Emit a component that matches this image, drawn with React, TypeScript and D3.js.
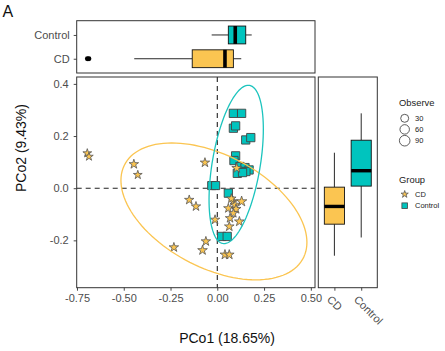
import * as d3 from 'd3'
import { useEffect, useRef } from 'react'

const width = 445
const height = 351
const font = 'Liberation Sans, Arial, Helvetica, sans-serif'

const groups = ['CD', 'Control']
const groupFill = ['#FBC551', '#00C4BE']
const ellipseStroke = ['#FBC551', '#1CC4BE']

// PCoA scores
const cdPco1 = [-0.695, -0.686, -0.446, -0.425, -0.066, 0.104, -0.15, -0.114, -0.232, -0.061, -0.079, -0.012, 0.041, 0.064, 0.086, 0.13, 0.095, 0.059, 0.1, 0.086, 0.068, 0.118, 0.064, 0.075]
const cdPco2 = [0.134, 0.121, 0.092, 0.051, 0.098, 0.077, -0.045, -0.07, -0.227, -0.204, -0.238, -0.121, -0.255, -0.255, -0.051, -0.051, -0.064, -0.077, -0.08, -0.096, -0.115, -0.128, -0.147, -0.04]
const cdObserve = [45, 40, 60, 45, 60, 70, 60, 60, 60, 60, 65, 60, 70, 65, 60, 85, 75, 60, 70, 55, 60, 70, 65, 60]

const ctrlPco1 = [0.086, 0.13, 0.086, 0.098, 0.152, 0.179, 0.098, 0.089, 0.121, 0.148, 0.17, 0.153, 0.107, 0.135, -0.03, -0.009, 0.059, 0.023, 0.053]
const ctrlPco2 = [0.287, 0.287, 0.23, 0.239, 0.185, 0.194, 0.124, 0.106, 0.083, 0.079, 0.07, 0.064, 0.057, 0.06, 0.01, 0.01, -0.019, -0.185, -0.185]
const ctrlObserve = [60, 60, 60, 60, 60, 60, 60, 60, 60, 60, 60, 60, 60, 60, 55, 55, 60, 60, 60]

// 95% ellipses: [cx, cy, var x, cov xy, var y]
const cdEllipse = [-0.018, -0.089, 0.2471, -0.05905, 0.0689]
const ctrlEllipse = [0.101, 0.091, 0.02106, 0.01962, 0.0921]

// boxplot summaries: [lower whisker, q1, median, q3, upper whisker]
const cdPco1Box = [-0.444, -0.134, 0.041, 0.086, 0.128]
const ctrlPco1Box = [-0.03, 0.059, 0.096, 0.152, 0.184]
const cdPco1Outliers = [-0.695, -0.686]
const cdPco2Box = [-0.259, -0.138, -0.07, 0.004, 0.136]
const ctrlPco2Box = [-0.189, 0.008, 0.067, 0.184, 0.287]

const xTicks = [-0.75, -0.5, -0.25, 0, 0.25, 0.5]
const yTicks = [-0.2, 0, 0.2, 0.4]
const observeBreaks = [30, 60, 90]

export default function App() {
    const svgRef = useRef<SVGSVGElement>(null)

    useEffect(() => {
        if (!svgRef.current) return
        const svg = d3.select(svgRef.current)
        svg.selectAll('*').remove()

        const main = { left: 76.7, right: 315, top: 77, bottom: 287.7 }
        const topP = { left: 76.7, right: 315, top: 20.7, bottom: 73 }
        const side = { left: 318.3, right: 377.3, top: 77, bottom: 287.7 }

        const x = d3.scaleLinear().domain([-0.7516, 0.5223]).range([main.left, main.right])
        const y = d3.scaleLinear().domain([-0.3816, 0.4264]).range([main.bottom, main.top])
        const r = d3.scaleSqrt().domain([30, 90]).range([4, 5.3])

        const yTop = d3.scalePoint().domain(['Control', 'CD']).range([topP.top, topP.bottom]).padding(0.6)
        const xSide = d3.scalePoint().domain(groups).range([side.left, side.right]).padding(0.6)

        const styleAxis = (g: any) => {
            g.select('.domain').remove()
            g.selectAll('line').attr('stroke', '#333').attr('stroke-width', 0.9)
            g.selectAll('text').attr('fill', '#4D4D4D').style('font-size', '11px').style('font-family', font)
        }

        // panel backgrounds
        for (const p of [topP, main, side]) {
            svg.append('rect')
                .attr('x', p.left).attr('y', p.top)
                .attr('width', p.right - p.left).attr('height', p.bottom - p.top)
                .attr('fill', 'white')
        }

        // zero lines
        svg.append('line')
            .attr('x1', x(0)).attr('x2', x(0)).attr('y1', main.top).attr('y2', main.bottom)
            .attr('stroke', '#222').attr('stroke-width', 1.1).attr('stroke-dasharray', '5,4')
        svg.append('line')
            .attr('x1', main.left).attr('x2', main.right).attr('y1', y(0)).attr('y2', y(0))
            .attr('stroke', '#222').attr('stroke-width', 1.1).attr('stroke-dasharray', '5,4')

        // points
        const cd = cdPco1.map((v, i) => ({ px: v, py: cdPco2[i], obs: cdObserve[i] }))
        const ctrl = ctrlPco1.map((v, i) => ({ px: v, py: ctrlPco2[i], obs: ctrlObserve[i] }))

        svg.append('g').selectAll('path')
            .data(ctrl)
            .enter()
            .append('path')
            .attr('d', (d) => d3.symbol(d3.symbolSquare, Math.pow(r(d.obs) * 1.75, 2))())
            .attr('transform', (d) => `translate(${x(d.px)},${y(d.py)})`)
            .attr('fill', groupFill[1])
            .attr('stroke', '#444')
            .attr('stroke-width', 0.9)

        svg.append('g').selectAll('path')
            .data(cd)
            .enter()
            .append('path')
            .attr('d', (d) => d3.symbol(d3.symbolStar, Math.pow(r(d.obs) * 1.05, 2) / 0.8908)())
            .attr('transform', (d) => `translate(${x(d.px)},${y(d.py)})`)
            .attr('fill', groupFill[0])
            .attr('stroke', '#555')
            .attr('stroke-width', 0.8)

        // ellipses
        const ellipsePath = (e: number[]) => {
            const [cx, cy, sxx, sxy, syy] = e
            const a = Math.sqrt(sxx)
            const b = sxy / a
            const c = Math.sqrt(syy - b * b)
            const pts = d3.range(0, 2 * Math.PI, Math.PI / 60).map((t) => [
                x(cx + a * Math.cos(t)),
                y(cy + b * Math.cos(t) + c * Math.sin(t)),
            ] as [number, number])
            return d3.line().curve(d3.curveLinearClosed)(pts)
        }
        ;[cdEllipse, ctrlEllipse].forEach((e, i) => {
            svg.append('path')
                .attr('d', ellipsePath(e))
                .attr('fill', 'none')
                .attr('stroke', ellipseStroke[i])
                .attr('stroke-width', 1.3)
        })

        // top boxplots (PCo1)
        const boxH = yTop.step() * 0.75
        const topBoxes = [
            { g: 'Control', s: ctrlPco1Box, fill: groupFill[1] },
            { g: 'CD', s: cdPco1Box, fill: groupFill[0] },
        ]
        topBoxes.forEach((b) => {
            const cy = yTop(b.g) as number
            const [lo, q1, med, q3, hi] = b.s
            const wg = svg.append('g')
            wg.append('line').attr('x1', x(lo)).attr('x2', x(q1)).attr('y1', cy).attr('y2', cy)
            wg.append('line').attr('x1', x(q3)).attr('x2', x(hi)).attr('y1', cy).attr('y2', cy)
            wg.selectAll('line').attr('stroke', '#111').attr('stroke-width', 0.9)
            wg.append('rect')
                .attr('x', x(q1)).attr('y', cy - boxH / 2)
                .attr('width', x(q3) - x(q1)).attr('height', boxH)
                .attr('fill', b.fill).attr('stroke', '#111').attr('stroke-width', 0.9)
            wg.append('line')
                .attr('x1', x(med)).attr('x2', x(med))
                .attr('y1', cy - boxH / 2).attr('y2', cy + boxH / 2)
                .attr('stroke', '#000').attr('stroke-width', 3.6)
        })
        svg.append('g').selectAll('circle')
            .data(cdPco1Outliers)
            .enter()
            .append('circle')
            .attr('cx', (d) => x(d))
            .attr('cy', yTop('CD') as number)
            .attr('r', 2.4)
            .attr('fill', '#000')

        // side boxplots (PCo2)
        const boxW = xSide.step() * 0.75
        const sideBoxes = [
            { g: 'CD', s: cdPco2Box, fill: groupFill[0] },
            { g: 'Control', s: ctrlPco2Box, fill: groupFill[1] },
        ]
        sideBoxes.forEach((b) => {
            const cx = xSide(b.g) as number
            const [lo, q1, med, q3, hi] = b.s
            const wg = svg.append('g')
            wg.append('line').attr('x1', cx).attr('x2', cx).attr('y1', y(lo)).attr('y2', y(q1))
            wg.append('line').attr('x1', cx).attr('x2', cx).attr('y1', y(q3)).attr('y2', y(hi))
            wg.selectAll('line').attr('stroke', '#111').attr('stroke-width', 0.9)
            wg.append('rect')
                .attr('x', cx - boxW / 2).attr('y', y(q3))
                .attr('width', boxW).attr('height', y(q1) - y(q3))
                .attr('fill', b.fill).attr('stroke', '#111').attr('stroke-width', 0.9)
            wg.append('line')
                .attr('x1', cx - boxW / 2).attr('x2', cx + boxW / 2)
                .attr('y1', y(med)).attr('y2', y(med))
                .attr('stroke', '#000').attr('stroke-width', 3.4)
        })

        // panel borders
        for (const p of [topP, main, side]) {
            svg.append('rect')
                .attr('x', p.left).attr('y', p.top)
                .attr('width', p.right - p.left).attr('height', p.bottom - p.top)
                .attr('fill', 'none').attr('stroke', '#333').attr('stroke-width', 1)
        }

        // axes
        svg.append('g')
            .attr('transform', `translate(0,${main.bottom})`)
            .call(d3.axisBottom(x).tickValues(xTicks).tickFormat((d: any) => d.toFixed(2)).tickSize(3).tickPadding(4))
            .call(styleAxis)
        svg.append('g')
            .attr('transform', `translate(${main.left},0)`)
            .call(d3.axisLeft(y).tickValues(yTicks).tickFormat((d: any) => d.toFixed(1)).tickSize(3).tickPadding(5))
            .call(styleAxis)
        svg.append('g')
            .attr('transform', `translate(${topP.left},0)`)
            .call(d3.axisLeft(yTop).tickSize(3).tickPadding(4))
            .call(styleAxis)
        const sideAxis = svg.append('g')
            .attr('transform', `translate(0,${side.bottom})`)
            .call(d3.axisBottom(xSide).tickSize(3))
            .call(styleAxis)
        sideAxis.selectAll('text')
            .attr('x', 0).attr('y', 0).attr('dy', '0.71em')
            .attr('text-anchor', 'start')
            .attr('transform', 'translate(-3,7) rotate(45)')

        // titles
        svg.append('text')
            .attr('x', 227).attr('y', 343)
            .attr('text-anchor', 'middle')
            .style('font-size', '14px').style('font-family', font)
            .attr('fill', '#111')
            .text('PCo1 (18.65%)')
        svg.append('text')
            .attr('transform', 'translate(26,148) rotate(-90)')
            .attr('text-anchor', 'middle')
            .style('font-size', '14px').style('font-family', font)
            .attr('fill', '#111')
            .text('PCo2 (9.43%)')
        svg.append('text')
            .attr('x', 2.5).attr('y', 17.3)
            .style('font-size', '16px').style('font-family', font)
            .attr('fill', '#111')
            .text('A')

        // legend
        const legend = svg.append('g').style('font-family', font)
        legend.append('text').attr('x', 399).attr('y', 106).style('font-size', '9.4px').attr('fill', '#222').text('Observe')
        const obsY = [118.3, 129.4, 140.7]
        observeBreaks.forEach((v, i) => {
            legend.append('circle')
                .attr('cx', 404.7).attr('cy', obsY[i]).attr('r', r(v))
                .attr('fill', 'none').attr('stroke', '#333').attr('stroke-width', 0.8)
            legend.append('text')
                .attr('x', 415).attr('y', obsY[i] + 2.7)
                .style('font-size', '7.5px').attr('fill', '#222')
                .text(v)
        })
        legend.append('text').attr('x', 399).attr('y', 182.5).style('font-size', '9.4px').attr('fill', '#222').text('Group')
        legend.append('path')
            .attr('d', d3.symbol(d3.symbolStar, 16)())
            .attr('transform', 'translate(404.7,194.3)')
            .attr('fill', groupFill[0]).attr('stroke', '#555').attr('stroke-width', 0.8)
        legend.append('rect')
            .attr('x', 401.9).attr('y', 202.9).attr('width', 5.6).attr('height', 5.6)
            .attr('fill', groupFill[1]).attr('stroke', '#444').attr('stroke-width', 0.8)
        legend.append('text').attr('x', 415).attr('y', 197).style('font-size', '7.5px').attr('fill', '#222').text('CD')
        legend.append('text').attr('x', 415).attr('y', 208.4).style('font-size', '7.5px').attr('fill', '#222').text('Control')
    }, [])

    return (
        <svg
            ref={svgRef}
            width={width}
            height={height}
            style={{ position: 'absolute', left: 0, top: 0, background: 'white' }}
        />
    )
}
